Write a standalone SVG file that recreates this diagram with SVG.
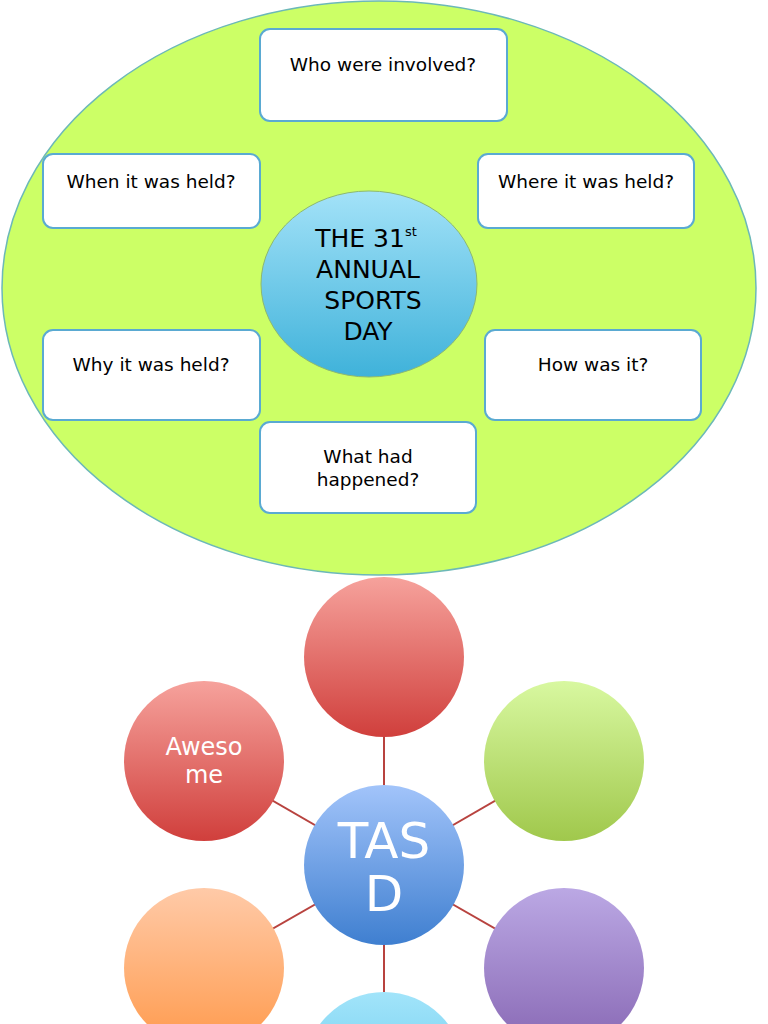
<svg xmlns="http://www.w3.org/2000/svg" width="768" height="1024" viewBox="0 0 768 1024">
<defs>
<linearGradient id="gCenter" x1="0" y1="0" x2="0" y2="1"><stop offset="0" stop-color="#A3E2F8"/><stop offset="1" stop-color="#3FB2DA"/></linearGradient>
<linearGradient id="gRed" x1="0" y1="0" x2="0" y2="1"><stop offset="0" stop-color="#F6A29C"/><stop offset="1" stop-color="#D03F3C"/></linearGradient>
<linearGradient id="gGreen" x1="0" y1="0" x2="0" y2="1"><stop offset="0" stop-color="#D8F8A0"/><stop offset="1" stop-color="#A0C84C"/></linearGradient>
<linearGradient id="gBlue" x1="0" y1="0" x2="0" y2="1"><stop offset="0" stop-color="#A2C4FA"/><stop offset="1" stop-color="#3F7FD0"/></linearGradient>
<linearGradient id="gOrange" x1="0" y1="0" x2="0" y2="1"><stop offset="0" stop-color="#FFCAA8"/><stop offset="1" stop-color="#FF9A4C"/></linearGradient>
<linearGradient id="gPurple" x1="0" y1="0" x2="0" y2="1"><stop offset="0" stop-color="#BBA8E4"/><stop offset="1" stop-color="#8868B4"/></linearGradient>
<linearGradient id="gCyan" x1="0" y1="0" x2="0" y2="1"><stop offset="0" stop-color="#A2E4FA"/><stop offset="1" stop-color="#50C0E8"/></linearGradient>
</defs>
<style>
.box{fill:#ffffff;stroke:#5AAAD2;stroke-width:2}
.q{font-family:"DejaVu Sans",sans-serif;font-size:18.5px;fill:#000;text-anchor:middle}
.big{font-family:"DejaVu Sans",sans-serif;font-size:25px;fill:#000;text-anchor:middle}
.w{font-family:"DejaVu Sans",sans-serif;fill:#fff;text-anchor:middle}
.link{stroke:#B8433F;stroke-width:2}
</style>
<rect width="768" height="1024" fill="#ffffff"/>
<g id="outer"><ellipse cx="379" cy="288" rx="377" ry="287" fill="#CCFF66" stroke="#6CB8B8" stroke-width="1.5"/></g>
<g id="n-who"><rect class="box" x="260" y="29" width="247" height="92" rx="10"/><text class="q" x="383" y="71">Who were involved?</text></g>
<g id="n-when"><rect class="box" x="43" y="154" width="217" height="74" rx="10"/><text class="q" x="151" y="188">When it was held?</text></g>
<g id="n-where"><rect class="box" x="478" y="154" width="216" height="74" rx="10"/><text class="q" x="586" y="188">Where it was held?</text></g>
<g id="n-why"><rect class="box" x="43" y="330" width="217" height="90" rx="10"/><text class="q" x="151" y="371">Why it was held?</text></g>
<g id="n-how"><rect class="box" x="485" y="330" width="216" height="90" rx="10"/><text class="q" x="593" y="371">How was it?</text></g>
<g id="n-what"><rect class="box" x="260" y="422" width="216" height="91" rx="10"/><text class="q" x="368" y="463">What had</text><text class="q" x="368" y="486">happened?</text></g>
<g id="n-center"><ellipse cx="369" cy="284" rx="108" ry="93" fill="url(#gCenter)" stroke="#8DB870" stroke-width="1"/>
<text class="big" x="366" y="247">THE 31<tspan font-size="13" dy="-11">st</tspan></text>
<text class="big" x="368" y="278">ANNUAL</text>
<text class="big" x="373" y="309">SPORTS</text>
<text class="big" x="368" y="340">DAY</text></g>
<g id="connectors">
<line class="link" x1="384" y1="865" x2="384" y2="657"/>
<line class="link" x1="384" y1="865" x2="204" y2="761"/>
<line class="link" x1="384" y1="865" x2="564" y2="761"/>
<line class="link" x1="384" y1="865" x2="204" y2="968"/>
<line class="link" x1="384" y1="865" x2="564" y2="968"/>
<line class="link" x1="384" y1="865" x2="384" y2="1072"/>
</g>
<g id="c-top"><circle cx="384" cy="657" r="80" fill="url(#gRed)"/></g>
<g id="c-awesome"><circle cx="204" cy="761" r="80" fill="url(#gRed)"/><text class="w" x="204" y="755" font-size="24">Aweso</text><text class="w" x="204" y="783" font-size="24">me</text></g>
<g id="c-green"><circle cx="564" cy="761" r="80" fill="url(#gGreen)"/></g>
<g id="c-tasd"><circle cx="384" cy="865" r="80" fill="url(#gBlue)"/><text class="w" x="384" y="858" font-size="50">TAS</text><text class="w" x="384" y="911" font-size="50">D</text></g>
<g id="c-orange"><circle cx="204" cy="968" r="80" fill="url(#gOrange)"/></g>
<g id="c-purple"><circle cx="564" cy="968" r="80" fill="url(#gPurple)"/></g>
<g id="c-bottom"><circle cx="384" cy="1072" r="80" fill="url(#gCyan)"/></g>
</svg>
